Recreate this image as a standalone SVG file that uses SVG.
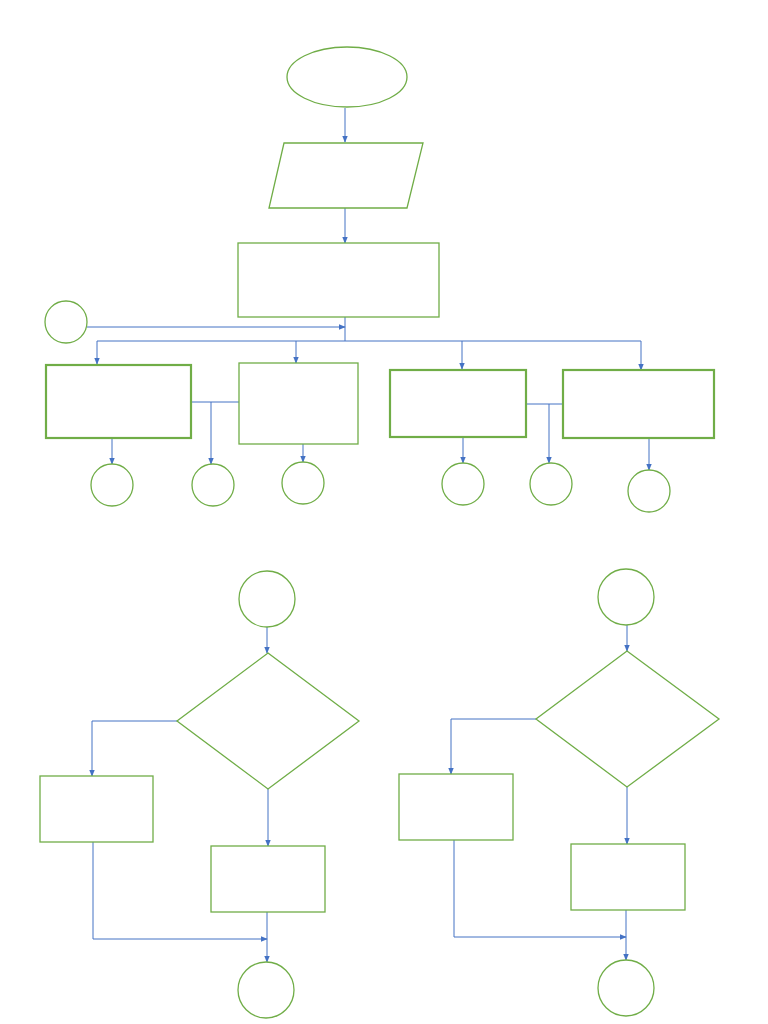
<svg xmlns="http://www.w3.org/2000/svg" width="768" height="1024" viewBox="0 0 768 1024">
<style>
.n{fill:#fff;stroke:#70ad47;stroke-width:1.3}
.t{stroke-width:2.2}
.c{fill:none;stroke:#4472c4;stroke-width:1}
.a{marker-end:url(#ar)}
</style>
<defs><marker id="ar" viewBox="0 0 10 10" refX="9" refY="5" markerWidth="7" markerHeight="7" orient="auto"><path d="M0,1L10,5L0,9z" fill="#4472c4"/></marker></defs>
<rect width="768" height="1024" fill="#fff"/>
<g id="connectors">
<path class="c a" d="M345,108V142"/>
<path class="c a" d="M345,208V243"/>
<path class="c" d="M345,317V341M97,341H641"/>
<path class="c a" d="M97,341V364"/><path class="c a" d="M296,341V363"/><path class="c a" d="M462,341V369"/><path class="c a" d="M641,341V370"/>
<path class="c a" d="M87,327H345"/>
<path class="c" d="M191,402H239"/><path class="c a" d="M211,402V464"/>
<path class="c a" d="M112,438V464"/><path class="c a" d="M303,444V462"/><path class="c a" d="M463,437V463"/>
<path class="c" d="M526,404H563"/><path class="c a" d="M549,404V463"/><path class="c a" d="M649,438V470"/>
<path class="c a" d="M267,627V653"/><path class="c a" d="M177,721H92V776"/><path class="c a" d="M268,789V846"/>
<path class="c a" d="M93,842V939H267"/><path class="c a" d="M267,912V962"/>
<path class="c a" d="M627,625V651"/><path class="c a" d="M536,719H451V774"/><path class="c a" d="M627,787V844"/>
<path class="c a" d="M454,840V937H626"/><path class="c a" d="M626,910V960"/>
</g>
<g id="start"><ellipse class="n" cx="347" cy="77" rx="60" ry="30"/></g>
<g id="input"><polygon class="n" points="284,143 423,143 407,208 269,208"/></g>
<g id="process"><rect class="n" x="238" y="243" width="201" height="74"/></g>
<g id="conn0"><circle class="n" cx="66" cy="322" r="21"/></g>
<g id="r1"><rect class="n t" x="46" y="365" width="145" height="73"/></g>
<g id="r2"><rect class="n" x="239" y="363" width="119" height="81"/></g>
<g id="r3"><rect class="n t" x="390" y="370" width="136" height="67"/></g>
<g id="r4"><rect class="n t" x="563" y="370" width="151" height="68"/></g>
<g id="c1"><circle class="n" cx="112" cy="485" r="21"/></g>
<g id="c2"><circle class="n" cx="213" cy="485" r="21"/></g>
<g id="c3"><circle class="n" cx="303" cy="483" r="21"/></g>
<g id="c4"><circle class="n" cx="463" cy="484" r="21"/></g>
<g id="c5"><circle class="n" cx="551" cy="484" r="21"/></g>
<g id="c6"><circle class="n" cx="649" cy="491" r="21"/></g>
<g id="lstart"><circle class="n" cx="267" cy="599" r="28"/></g>
<g id="ldec"><polygon class="n" points="268,653 359,721 268,789 177,721"/></g>
<g id="lr1"><rect class="n" x="40" y="776" width="113" height="66"/></g>
<g id="lr2"><rect class="n" x="211" y="846" width="114" height="66"/></g>
<g id="lend"><circle class="n" cx="266" cy="990" r="28"/></g>
<g id="rstart"><circle class="n" cx="626" cy="597" r="28"/></g>
<g id="rdec"><polygon class="n" points="627,651 719,719 627,787 536,719"/></g>
<g id="rr1"><rect class="n" x="399" y="774" width="114" height="66"/></g>
<g id="rr2"><rect class="n" x="571" y="844" width="114" height="66"/></g>
<g id="rend"><circle class="n" cx="626" cy="988" r="28"/></g>
</svg>
